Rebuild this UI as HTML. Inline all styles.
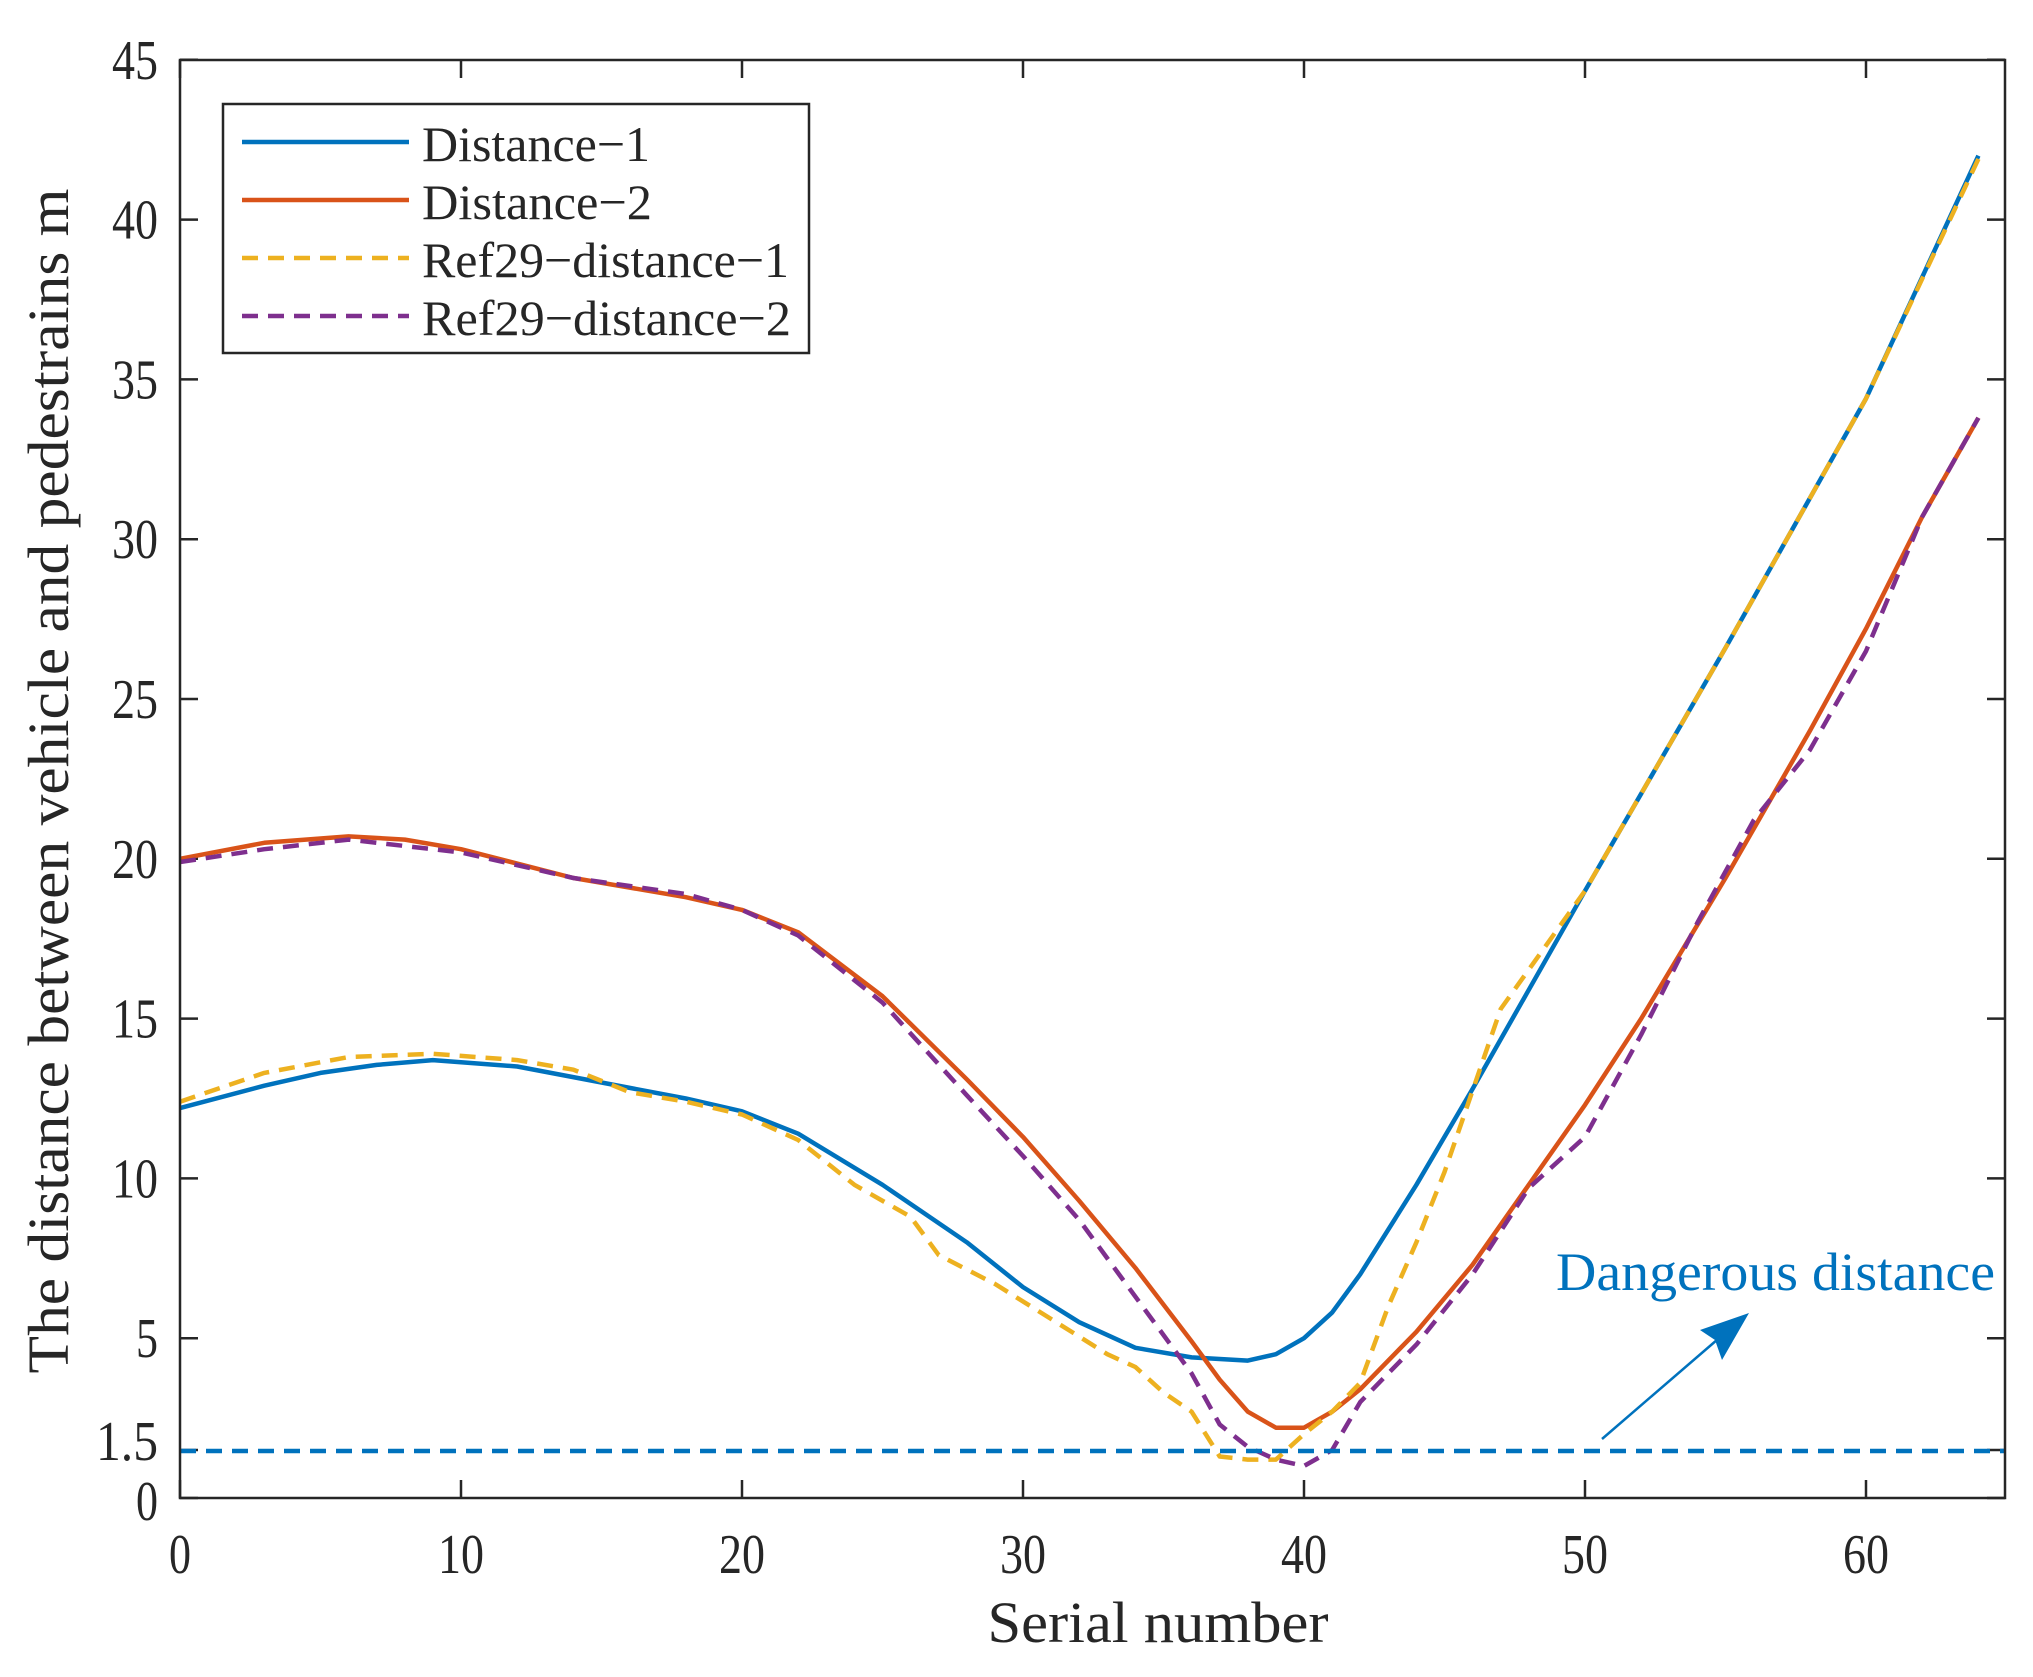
<!DOCTYPE html>
<html><head><meta charset="utf-8"><style>
html,body{margin:0;padding:0;background:#fff}
svg{display:block}
text{font-family:"Liberation Serif",serif;fill:#262626}
</style></head><body>
<svg id="s" width="2033" height="1677" viewBox="0 0 2033 1677" xmlns="http://www.w3.org/2000/svg">
<rect x="0" y="0" width="2033" height="1677" fill="#fff"/>
<g id="ticks"></g>
<g id="series" fill="none" stroke-width="4.5" stroke-linejoin="round"></g>
<line x1="180" y1="1451" x2="2005" y2="1451" stroke="#0072BD" stroke-width="4.5" stroke-dasharray="16,10"/>
<rect x="180" y="60" width="1825" height="1438" fill="none" stroke="#262626" stroke-width="2.5"/>
<!-- legend -->
<rect x="223" y="104" width="586" height="249" fill="#fff" stroke="#262626" stroke-width="2.5"/>
<line x1="242" y1="142" x2="409" y2="142" stroke="#0072BD" stroke-width="4.5"/>
<line x1="242" y1="200" x2="409" y2="200" stroke="#D95319" stroke-width="4.5"/>
<line x1="242" y1="258" x2="409" y2="258" stroke="#EDB120" stroke-width="4.5" stroke-dasharray="16,10"/>
<line x1="242" y1="316" x2="409" y2="316" stroke="#7E2F8E" stroke-width="4.5" stroke-dasharray="16,10"/>
<text x="422" y="161" font-size="50" textLength="228" lengthAdjust="spacingAndGlyphs">Distance−1</text>
<text x="422" y="219" font-size="50" textLength="230" lengthAdjust="spacingAndGlyphs">Distance−2</text>
<text x="422" y="277" font-size="50" textLength="367" lengthAdjust="spacingAndGlyphs">Ref29−distance−1</text>
<text x="422" y="335" font-size="50" textLength="369" lengthAdjust="spacingAndGlyphs">Ref29−distance−2</text>
<!-- annotation -->
<text x="1556" y="1290" font-size="54" style="fill:#0072BD" textLength="439" lengthAdjust="spacingAndGlyphs">Dangerous distance</text>
<line x1="1602" y1="1439" x2="1725" y2="1333" stroke="#0072BD" stroke-width="2.5"/>
<polygon points="1749,1313 1700,1330 1715,1340 1722,1360" fill="#0072BD"/>
<text x="1158" y="1642" font-size="58" text-anchor="middle" textLength="341" lengthAdjust="spacingAndGlyphs">Serial number</text>
<text transform="translate(68,781) rotate(-90)" font-size="58" text-anchor="middle" textLength="1185" lengthAdjust="spacingAndGlyphs">The distance between vehicle and pedestrains m</text>
</svg>
<script>
function X(v){return 180+v*28.1}
function Y(v){return 1498-v*31.96}
var t=document.getElementById("ticks"),h="";
[0,10,20,30,40,50,60].forEach(function(v){var x=X(v);
h+='<line x1="'+x+'" y1="1498" x2="'+x+'" y2="1480" stroke="#262626" stroke-width="2.5"/>';
h+='<line x1="'+x+'" y1="60" x2="'+x+'" y2="78" stroke="#262626" stroke-width="2.5"/>';
h+='<text x="'+x+'" y="1573" font-size="56" text-anchor="middle" textLength="'+(v==0?22:46)+'" lengthAdjust="spacingAndGlyphs">'+v+'</text>';});
[0,1.5,5,10,15,20,25,30,35,40,45].forEach(function(v){var y=Y(v);
h+='<line x1="180" y1="'+y+'" x2="198" y2="'+y+'" stroke="#262626" stroke-width="2.5"/>';
h+='<line x1="2005" y1="'+y+'" x2="1987" y2="'+y+'" stroke="#262626" stroke-width="2.5"/>';
var s=String(v),w=v==1.5?62:(s.length==1?22:46);
h+='<text x="158" y="'+(v==0?y+22:(v==1.5?y+10:y+19))+'" font-size="56" text-anchor="end" textLength="'+w+'" lengthAdjust="spacingAndGlyphs">'+s+'</text>';});
t.innerHTML=h;
var D={
b:[[0,12.2],[3,12.9],[5,13.3],[7,13.55],[9,13.7],[12,13.5],[15,13.0],[18,12.5],[20,12.1],[22,11.4],[25,9.8],[28,8.0],[30,6.6],[32,5.5],[34,4.7],[36,4.4],[38,4.3],[39,4.5],[40,5.0],[41,5.8],[42,7.0],[44,9.8],[46,12.8],[48,15.9],[50,19.0],[55,26.6],[60,34.4],[64,42.0]],
o:[[0,20.0],[3,20.5],[6,20.7],[8,20.6],[10,20.3],[14,19.4],[18,18.8],[20,18.4],[22,17.7],[25,15.7],[28,13.1],[30,11.3],[32,9.3],[34,7.2],[36,4.9],[37,3.7],[38,2.7],[39,2.2],[40,2.2],[41,2.7],[42,3.4],[44,5.2],[46,7.3],[48,9.8],[50,12.3],[52,15.0],[55,19.4],[58,24.0],[60,27.2],[62,30.7],[64,33.8]],
y:[[0,12.4],[3,13.3],[6,13.8],[9,13.9],[12,13.7],[14,13.4],[16,12.7],[18,12.4],[20,12.0],[22,11.2],[24,9.8],[26,8.8],[27,7.6],[29,6.7],[31,5.6],[33,4.5],[34,4.1],[35,3.3],[36,2.7],[37,1.3],[38,1.2],[39,1.2],[40,2.0],[41,2.7],[42,3.6],[43,6.0],[44,8.0],[45,10.2],[47,15.3],[50,19.0],[55,26.6],[60,34.4],[64,41.9]],
p:[[0,19.9],[3,20.3],[6,20.6],[10,20.2],[12,19.8],[14,19.4],[18,18.9],[20,18.4],[22,17.6],[25,15.5],[28,12.6],[30,10.7],[32,8.7],[34,6.3],[36,3.9],[37,2.3],[38,1.6],[39,1.2],[40,1.0],[41,1.5],[42,3.0],[44,4.8],[46,7.0],[48,9.7],[50,11.3],[52,14.5],[54,18.0],[56,21.2],[58,23.4],[60,26.5],[62,30.7],[64,33.8]]};
var st={b:['#0072BD',''],o:['#D95319',''],y:['#EDB120','16,10'],p:['#7E2F8E','16,10']};
var g="";["b","o","y","p"].forEach(function(k){var pts=D[k].map(function(q){return X(q[0]).toFixed(1)+","+Y(q[1]).toFixed(1)}).join(" ");
g+='<polyline points="'+pts+'" stroke="'+st[k][0]+'"'+(st[k][1]?' stroke-dasharray="'+st[k][1]+'"':'')+'/>';});
document.getElementById("series").innerHTML=g;
</script>
</body></html>
